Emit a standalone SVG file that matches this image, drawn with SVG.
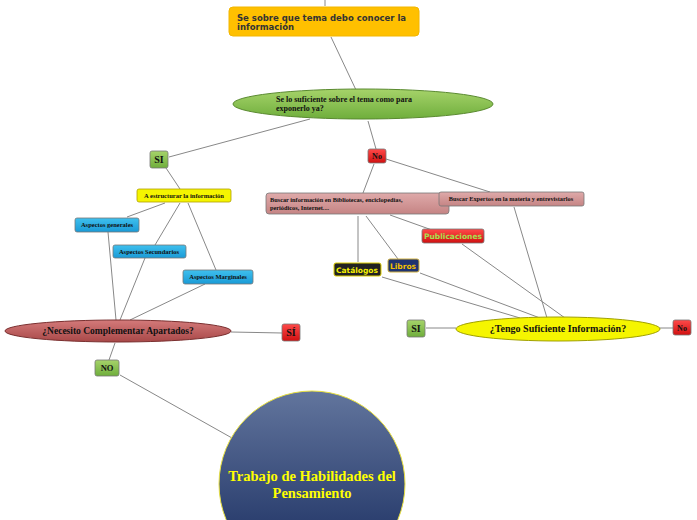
<svg xmlns="http://www.w3.org/2000/svg" width="697" height="520" viewBox="0 0 697 520">
<style>
.c{stroke:#888;stroke-width:1;fill:none}
.s{font-family:"Liberation Serif",serif;font-weight:bold;fill:#111}
.a{font-family:"DejaVu Sans",sans-serif;font-weight:bold}
.b{stroke:#777;stroke-width:0.8}
</style>
<defs>
<linearGradient id="gc" x1="0" y1="0" x2="0" y2="1"><stop offset="0" stop-color="#62759d"/><stop offset="1" stop-color="#15295c"/></linearGradient>
<linearGradient id="gg" x1="0" y1="0" x2="0" y2="1"><stop offset="0" stop-color="#a6d36a"/><stop offset="1" stop-color="#6fae3c"/></linearGradient>
<linearGradient id="gr" x1="0" y1="0" x2="0" y2="1"><stop offset="0" stop-color="#ff4a4a"/><stop offset="1" stop-color="#d01010"/></linearGradient>
<linearGradient id="gb" x1="0" y1="0" x2="0" y2="1"><stop offset="0" stop-color="#3fc0ee"/><stop offset="1" stop-color="#1a9ad6"/></linearGradient>
<linearGradient id="gp" x1="0" y1="0" x2="0" y2="1"><stop offset="0" stop-color="#dfaaaa"/><stop offset="1" stop-color="#c58484"/></linearGradient>
<linearGradient id="gm" x1="0" y1="0" x2="0" y2="1"><stop offset="0" stop-color="#d47a7a"/><stop offset="1" stop-color="#a84848"/></linearGradient>
</defs>
<g id="connectors" class="c">
<line x1="325" y1="0" x2="325" y2="6"/>
<line x1="331" y1="37" x2="356" y2="90"/>
<line x1="310" y1="119" x2="169" y2="157"/>
<line x1="368" y1="121" x2="376" y2="149"/>
<line x1="166" y1="168" x2="180" y2="189"/>
<line x1="374" y1="164" x2="363" y2="193"/>
<line x1="386" y1="159" x2="490" y2="192"/>
<line x1="165" y1="203" x2="127" y2="217"/>
<line x1="180" y1="203" x2="155" y2="245"/>
<line x1="188" y1="203" x2="216" y2="270"/>
<line x1="108" y1="232" x2="116" y2="320"/>
<line x1="145" y1="258" x2="120" y2="320"/>
<line x1="205" y1="284" x2="130" y2="320"/>
<line x1="231" y1="332" x2="282" y2="333"/>
<line x1="115" y1="343" x2="109" y2="360"/>
<line x1="120" y1="375" x2="232" y2="438"/>
<line x1="358" y1="216" x2="358" y2="262"/>
<line x1="366" y1="216" x2="398" y2="259"/>
<line x1="390" y1="215" x2="432" y2="230"/>
<line x1="382" y1="277" x2="520" y2="318"/>
<line x1="420" y1="273" x2="540" y2="318"/>
<line x1="462" y1="244" x2="565" y2="318"/>
<line x1="514" y1="207" x2="547" y2="318"/>
<line x1="456" y1="328" x2="426" y2="328"/>
<line x1="659" y1="328" x2="674" y2="328"/>
</g>
<g id="n-top"><rect x="229" y="7" width="190" height="29" rx="4" fill="#ffc000" stroke="#f2b600"/>
<text class="a" font-size="8.5" fill="#333"><tspan x="237" y="21">Se sobre que tema debo conocer la</tspan><tspan x="237" y="30">información</tspan></text></g>
<g id="n-q1"><ellipse cx="363" cy="104" rx="130" ry="15" fill="url(#gg)" stroke="#5a8a30"/>
<text class="s" font-size="8"><tspan x="276" y="102">Se lo suficiente  sobre el tema como para</tspan><tspan x="276" y="111">exponerlo ya?</tspan></text></g>
<g id="n-si1"><rect x="150" y="151" width="18" height="17" rx="2" fill="url(#gg)" class="b"/><text class="s" font-size="10" x="159" y="163" text-anchor="middle">SI</text></g>
<g id="n-no1"><rect x="368" y="149" width="18" height="14" rx="2" fill="url(#gr)" class="b"/><text class="s" font-size="8" x="377" y="159" text-anchor="middle">No</text></g>
<g id="n-estr"><rect x="137" y="189" width="94" height="13" rx="2" fill="#f5f500" stroke="#b0a000" stroke-width="0.8"/><text class="s" font-size="6.5" x="184" y="198" text-anchor="middle">A estructurar la información</text></g>
<g id="n-gen"><rect x="75" y="218" width="64" height="14" rx="2" fill="url(#gb)" class="b"/><text class="s" font-size="6.5" x="107" y="227" text-anchor="middle">Aspectos generales</text></g>
<g id="n-sec"><rect x="113" y="245" width="73" height="13" rx="2" fill="url(#gb)" class="b"/><text class="s" font-size="6.5" x="149" y="254" text-anchor="middle">Aspectos Secundarios</text></g>
<g id="n-mar"><rect x="183" y="270" width="70" height="14" rx="2" fill="url(#gb)" class="b"/><text class="s" font-size="6.5" x="218" y="279" text-anchor="middle">Aspectos Marginales</text></g>
<g id="n-nec"><ellipse cx="118" cy="331" rx="113" ry="11" fill="url(#gm)" stroke="#7a3030"/><text class="s" font-size="9.5" x="118" y="334" text-anchor="middle">¿Necesito Complementar Apartados?</text></g>
<g id="n-si2"><rect x="282" y="324" width="18" height="17" rx="2" fill="url(#gr)" class="b"/><text class="s" font-size="10" x="291" y="336" text-anchor="middle">SÍ</text></g>
<g id="n-no2"><rect x="95" y="360" width="24" height="16" rx="2" fill="url(#gg)" class="b"/><text class="s" font-size="8.5" x="107" y="371" text-anchor="middle">NO</text></g>
<g id="n-main"><circle cx="312" cy="484" r="93" fill="url(#gc)" stroke="#e8e040"/>
<text class="s" font-size="14.5" style="fill:#ffff00" text-anchor="middle"><tspan x="312" y="481">Trabajo de Habilidades del</tspan><tspan x="312" y="498">Pensamiento</tspan></text></g>
<g id="n-bib"><rect x="266" y="193" width="183" height="21" rx="3" fill="url(#gp)" class="b"/>
<text class="s" font-size="6.3"><tspan x="270" y="202">Buscar información en Bibliotecas, enciclopedias,</tspan><tspan x="270" y="210">periódicos, Internet....</tspan></text></g>
<g id="n-exp"><rect x="439" y="192" width="145" height="14" rx="2" fill="url(#gp)" class="b"/><text class="s" font-size="6.3" x="511" y="201" text-anchor="middle">Buscar Expertos en la materia y entrevistarlos</text></g>
<g id="n-pub"><rect x="422" y="229" width="62" height="14" rx="2" fill="url(#gr)" class="b"/><text class="a" font-size="7.5" fill="#a6e050" x="453" y="239" text-anchor="middle">Publicaciones</text></g>
<g id="n-cat"><rect x="334" y="263" width="47" height="13" rx="2" fill="#222" stroke="#e0d000"/><text class="a" font-size="7.5" fill="#f5f000" x="357" y="273" text-anchor="middle">Catálogos</text></g>
<g id="n-lib"><rect x="388" y="259" width="31" height="13" rx="2" fill="#1f3370" stroke="#d0b040"/><text class="a" font-size="7.5" fill="#f0c000" x="403" y="269" text-anchor="middle">Libros</text></g>
<g id="n-q2"><ellipse cx="558" cy="329" rx="102" ry="12" fill="#f5f500" stroke="#a0a000"/><text class="s" font-size="10" x="558" y="332" text-anchor="middle">¿Tengo Suficiente Información?</text></g>
<g id="n-si3"><rect x="407" y="320" width="18" height="17" rx="2" fill="url(#gg)" class="b"/><text class="s" font-size="10" x="416" y="332" text-anchor="middle">SI</text></g>
<g id="n-no3"><rect x="673" y="320" width="18" height="15" rx="2" fill="url(#gr)" class="b"/><text class="s" font-size="8" x="682" y="331" text-anchor="middle">No</text></g>
</svg>
